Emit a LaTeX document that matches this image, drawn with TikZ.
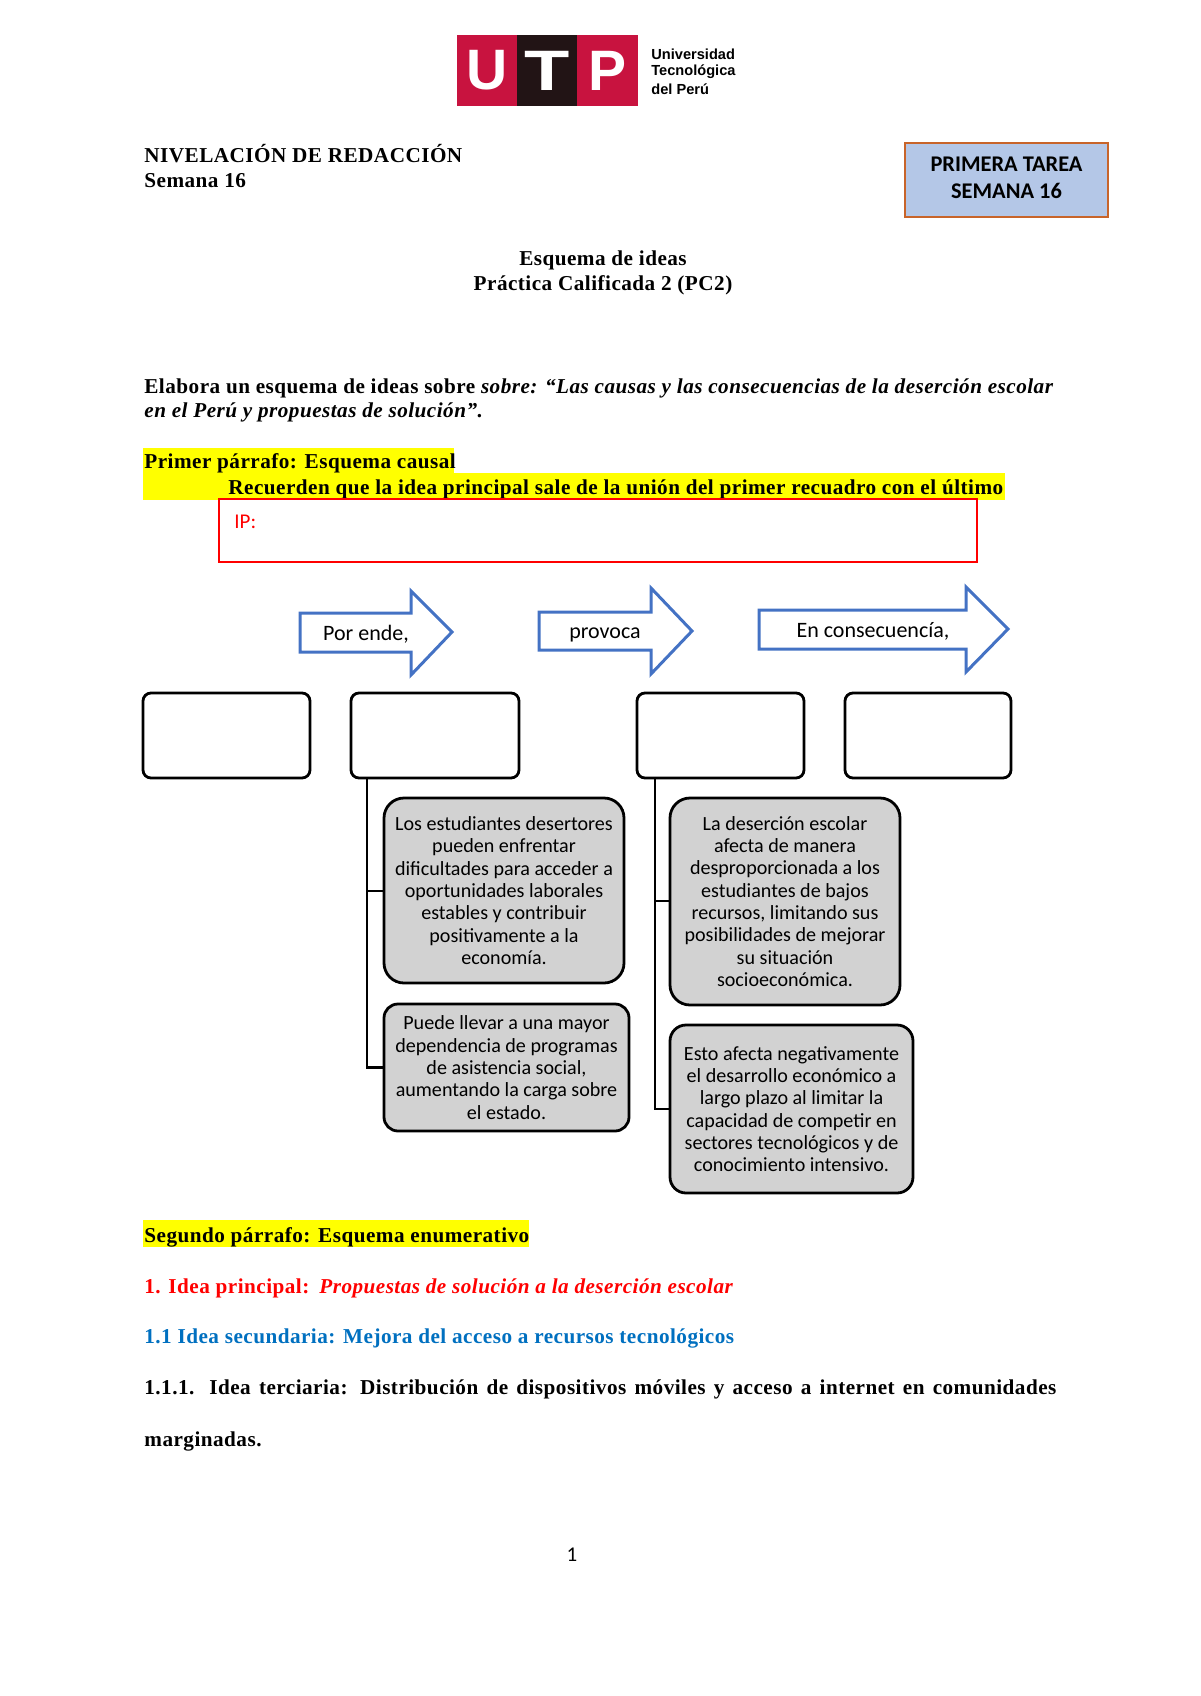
\documentclass[tikz,border=0pt]{standalone}
\usepackage{fontspec}
\setmainfont{Liberation Serif}
\newfontfamily\calibri{Carlito}
\newfontfamily\logofont{Liberation Sans}
\newfontfamily\spaced[LetterSpace=2.2]{Liberation Serif}
\usepackage{xcolor}
\usetikzlibrary{positioning, arrows.meta, shapes.geometric}
\definecolor{utpred}{HTML}{C8133F}
\definecolor{utpdark}{HTML}{221415}
\definecolor{tareafill}{HTML}{B4C7E7}
\definecolor{tareaedge}{HTML}{C8642A}
\definecolor{arrowblue}{HTML}{4472C4}
\definecolor{ideablue}{HTML}{0070C0}
\definecolor{cellgray}{HTML}{D2D2D2}
\definecolor{marca}{RGB}{255,255,0}
\definecolor{rojo}{RGB}{255,0,0}
\tikzset{
  line/.style={anchor=base west,inner sep=0pt,font=\spaced\bfseries\fontsize{10.6}{12}\selectfont},
  midline/.style={line,anchor=base},
  emptybox/.style={draw,line width=1.4pt,rounded corners=4pt,minimum height=42.5pt,inner sep=0pt},
  graybox/.style={draw,line width=1.4pt,fill=cellgray,rounded corners=8pt,inner sep=0pt,align=center,
    font=\calibri\fontsize{10.05}{11.15}\selectfont},
  blockarrow/.style={draw=arrowblue,line width=1.5pt,fill=white,miter limit=10},
  arrowtext/.style={inner sep=0pt,text height=7pt,text depth=2pt,font=\calibri\fontsize{11}{12}\selectfont},
  logoletter/.style={inner sep=0pt,text=white,font=\logofont\bfseries\fontsize{28.5}{31}\selectfont},
  logoword/.style={anchor=west,inner sep=0pt,font=\logofont\bfseries\fontsize{7.3}{9}\selectfont},
  trunk/.style={line width=1.4pt}
}
\begin{document}
\begin{tikzpicture}[x=0.5pt,y=-0.5pt]
  \useasboundingbox (0,0) rectangle (1200,1696);
  \fill[white] (0,0) rectangle (1200,1696);
  % logo
  \fill[utpred] (457,35) rectangle (638,106);
  \fill[utpdark] (517,35) rectangle (577,106);
  \node[logoletter] (logou) at (487.5,70.5){U};
  \node[logoletter] (logot) at (547.5,70.5){\scalebox{1.3}[1]{T}};
  \node[logoletter] (logop) at (607.5,70.5){P};
  \node[logoword] (logoa) at (651,54){Universidad};
  \node[logoword] (logob) at (651,72){Tecnológica};
  \node[logoword] (logoc) at (651,89){del Perú};
  % head
  \node[line] (nivel) at (144,163){NIVELACIÓN DE REDACCIÓN};
  \node[line] (semana) at (144,188){Semana 16};
  \node[draw=tareaedge,line width=1pt,fill=tareafill,minimum width=101.5pt,minimum height=37pt,inner sep=0pt] (tarea) at (1006.5,180){};
  \node[inner sep=0pt,align=center,font=\calibri\bfseries\fontsize{11.2}{13.5}\selectfont] (tareatxt) at (1006.5,177.5){PRIMERA TAREA\\SEMANA 16};
  \node[midline] (titulo) at (603,265){Esquema de ideas};
  \node[midline] (practica) at (603,290){Práctica Calificada 2 (PC2)};
  \node[line] (elabora) at (144,393){Elabora un esquema de ideas sobre \textit{sobre: “Las causas y las consecuencias de la deserción escolar}};
  \node[line] (elaborab) at (144,417){\textit{en el Perú y propuestas de solución”.}};
  % first paragraph
  \fill[marca] (143,448) rectangle (454,473);
  \fill[marca] (143,473) rectangle (1005,500);
  \node[line] (primer) at (144,468){Primer párrafo: Esquema causal};
  \node[line] (recuerden) at (228,494){Recuerden que la idea principal sale de la unión del primer recuadro con el último};
  \node[draw=rojo,line width=1.3pt,minimum width=379pt,minimum height=31.5pt,inner sep=0pt] (ipbox) at (598,530.5){};
  \node[anchor=west,inner sep=0pt,text=rojo,font=\calibri\fontsize{10.5}{12}\selectfont] (ip) at (234,522){IP:};
  % arrows
  \draw[blockarrow] (300,613)--(411,613)--(411,591)--(452,632)--(411,675)--(411,652)--(300,652)--cycle;
  \node[arrowtext] (porende) at (366,635){Por ende,};
  \draw[blockarrow] (539,612)--(651,612)--(651,588)--(692,631)--(651,674)--(651,650)--(539,650)--cycle;
  \node[arrowtext] (provoca) at (605,633){provoca};
  \draw[blockarrow] (759,610)--(966,610)--(966,587)--(1008,629)--(966,672)--(966,649)--(759,649)--cycle;
  \node[arrowtext] (consecuencia) at (873,632){En consecuencía,};
  % empty boxes
  \node[emptybox,minimum width=83.5pt] (caja1) at (226.5,735.5){};
  \node[emptybox,minimum width=84pt] (caja2) at (435,735.5){};
  \node[emptybox,minimum width=83.5pt] (caja3) at (720.5,735.5){};
  \node[emptybox,minimum width=83pt] (caja4) at (928,735.5){};
  % gray boxes
  \node[graybox,rounded corners=10pt,minimum width=120pt,minimum height=92.5pt] (efectoa) at (504,890.5)
    {Los estudiantes desertores\\pueden enfrentar\\dificultades para acceder a\\oportunidades laborales\\estables y contribuir\\positivamente a la\\economía.};
  \node[graybox,rounded corners=7pt,minimum width=122.5pt,minimum height=63.5pt] (efectob) at (506.5,1067.5)
    {Puede llevar a una mayor\\dependencia de programas\\de asistencia social,\\aumentando la carga sobre\\el estado.};
  \node[graybox,rounded corners=10pt,minimum width=115pt,minimum height=103.5pt] (efectoc) at (785,901.5)
    {La deserción escolar\\afecta de manera\\desproporcionada a los\\estudiantes de bajos\\recursos, limitando sus\\posibilidades de mejorar\\su situación\\socioeconómica.};
  \node[graybox,rounded corners=8pt,minimum width=121.5pt,minimum height=84pt] (efectod) at (791.5,1109)
    {Esto afecta negativamente\\el desarrollo económico a\\largo plazo al limitar la\\capacidad de competir en\\sectores tecnológicos y de\\conocimiento intensivo.};
  % branches
  \coordinate (raiz2) at (367,778);
  \coordinate (raiz3) at (655,778);
  \coordinate (junta2) at (367,891);
  \coordinate (junta3) at (655,901);
  \draw[trunk] (raiz2) -- (junta2) -- (junta2 -| efectoa.west);
  \draw[trunk] (junta2) |- (efectob.west);
  \draw[trunk] (raiz3) -- (junta3) -- (junta3 -| efectoc.west);
  \draw[trunk] (junta3) |- (efectod.west);
  % second paragraph
  \fill[marca] (143,1220) rectangle (529,1247);
  \node[line] (segundo) at (144,1242){Segundo párrafo: Esquema enumerativo};
  \node[line,text=rojo] (idea1) at (144,1293){1. Idea principal:\hspace{5pt}\textit{Propuestas de solución a la deserción escolar}};
  \node[line,text=ideablue] (idea2) at (144,1343){1.1 Idea secundaria: Mejora del acceso a recursos tecnológicos};
  \node[line] (idea3) at (144,1394){\makebox[456pt][s]{1.1.1. Idea terciaria: Distribución de dispositivos móviles y acceso a internet en comunidades}};
  \node[line] (idea3b) at (144,1446){marginadas.};
  \node[inner sep=0pt,font=\calibri\fontsize{10.5}{12}\selectfont] (pagina) at (572,1555){1};
\end{tikzpicture}
\end{document}
